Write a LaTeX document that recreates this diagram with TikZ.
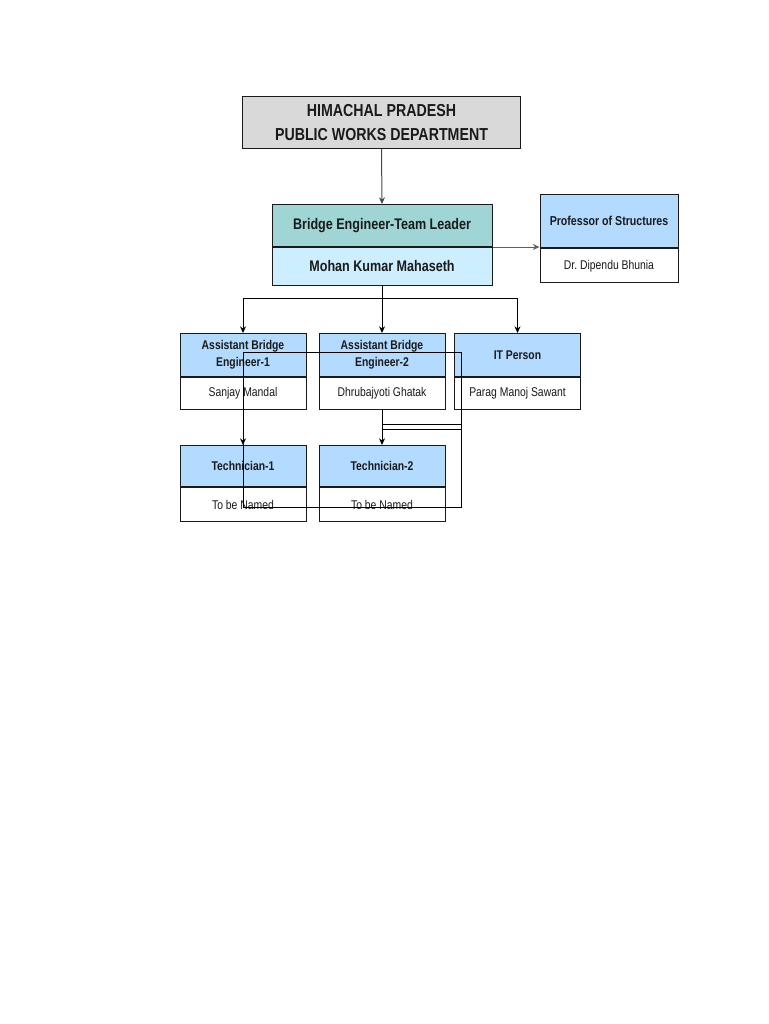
\documentclass[tikz,border=0pt]{standalone}
\usepackage{fontspec}
\setmainfont{Liberation Sans}[FakeStretch=0.82]
\usepackage{xcolor}
\usetikzlibrary{arrows.meta,positioning}
\definecolor{titlegray}{HTML}{D9D9D9}
\definecolor{leadteal}{HTML}{9FD5D5}
\definecolor{leadblue}{HTML}{CCEEFF}
\definecolor{headblue}{HTML}{B3DAFF}
\definecolor{inkdark}{HTML}{1A1A1A}

\begin{document}
\begin{tikzpicture}[
    x=0.75pt, y=-0.75pt,
    node distance=0pt and 0pt,
    arr/.style={-{Stealth[length=5pt,width=4.5pt]}, line width=0.75pt},
    wire/.style={line width=0.75pt},
    titlebox/.style={draw=inkdark, fill=titlegray, line width=0.75pt,
                     minimum width=209pt, minimum height=39pt, align=center,
                     font=\fontsize{13}{18}\selectfont\bfseries, text=inkdark},
    leadhead/.style={draw=inkdark, fill=leadteal, line width=0.75pt,
                     minimum width=165pt, minimum height=31.5pt,
                     font=\fontsize{11.5}{14}\selectfont\bfseries, text=inkdark},
    leadbody/.style={draw=inkdark, fill=leadblue, line width=0.75pt,
                     minimum width=165pt, minimum height=28.5pt,
                     font=\fontsize{11.5}{14}\selectfont\bfseries, text=inkdark},
    profhead/.style={draw=inkdark, fill=headblue, line width=0.75pt,
                     minimum width=103.5pt, minimum height=40pt,
                     font=\fontsize{9.7}{12}\selectfont\bfseries, text=inkdark},
    profbody/.style={draw=inkdark, fill=white, line width=0.75pt,
                     minimum width=103.5pt, minimum height=25.5pt,
                     font=\fontsize{9.5}{12}\selectfont, text=inkdark},
    stafhead/.style={draw=inkdark, fill=headblue, line width=0.75pt,
                     minimum width=94.5pt, minimum height=32pt, align=center,
                     inner sep=1pt,
                     font=\fontsize{9.5}{12.5}\selectfont\bfseries, text=inkdark},
    stafbody/.style={draw=inkdark, fill=white, line width=0.75pt,
                     minimum width=94.5pt, minimum height=24pt,
                     font=\fontsize{9.5}{12}\selectfont, text=inkdark},
  ]
    \useasboundingbox (0,0) rectangle (768,1024);

    % Department
    \node[titlebox, anchor=north] (dept) at (381.5,96)
      {HIMACHAL PRADESH\\PUBLIC WORKS DEPARTMENT};

    % Team leader
    \node[leadhead, anchor=north] (leadH) at (382,204) {Bridge Engineer-Team Leader};
    \node[leadbody, below=of leadH] (leadB) {Mohan Kumar Mahaseth};

    % Professor
    \node[profhead, anchor=north] (profH) at (609,194) {Professor of Structures};
    \node[profbody, below=of profH] (profB) {Dr.\ Dipendu Bhunia};

    % Second row
    \node[stafhead, anchor=north] (abeoneH) at (243,333) {Assistant Bridge\\Engineer-1};
    \node[stafbody, below=of abeoneH] (abeoneB) {Sanjay Mandal};
    \node[stafhead, anchor=north] (abetwoH) at (382,333) {Assistant Bridge\\Engineer-2};
    \node[stafbody, below=of abetwoH] (abetwoB) {Dhrubajyoti Ghatak};
    \node[stafhead, anchor=north] (itH) at (517.5,333) {IT Person};
    \node[stafbody, below=of itH] (itB) {Parag Manoj Sawant};

    % Third row
    \node[stafhead, minimum height=31pt, anchor=north] (techoneH) at (243,445) {Technician-1};
    \node[stafbody, minimum height=25.5pt, below=of techoneH] (techoneB) {To be Named};
    \node[stafhead, minimum height=31pt, anchor=north] (techtwoH) at (382,445) {Technician-2};
    \node[stafbody, minimum height=25.5pt, below=of techtwoH] (techtwoB) {To be Named};

    % Connectors
    \draw[arr, inkdark!80] (dept.south) -- (leadH.north);
    \draw[arr, inkdark!70] (leadH.south east) -- (leadH.south east -| profH.west);
    \coordinate (bus) at (382,298);
    \draw[wire] (leadB.south) -- (bus);
    \draw[arr] (bus) -| (abeoneH.north);
    \draw[arr] (bus) -- (abetwoH.north);
    \draw[arr] (bus) -| (itH.north);

    % Loop over the lower rows
    \coordinate (loopNW) at (243,352);
    \coordinate (loopNE) at (461,352);
    \coordinate (loopSE) at (461,507);
    \coordinate (loopSW) at (243,507);
    \draw[wire] (loopNW) -- (loopNE) -- (loopSE) -- (loopSW) -- (loopNW);
    \draw[arr] (loopNW) -- (techoneH.north);
    \draw[arr] (abetwoB.south) -- (techtwoH.north);
    \draw[wire] (abetwoB.south |- 0,424) -- (loopNE |- 0,424);
    \draw[wire] (abetwoB.south |- 0,429.5) -- (loopNE |- 0,429.5);
  \end{tikzpicture}
\end{document}
